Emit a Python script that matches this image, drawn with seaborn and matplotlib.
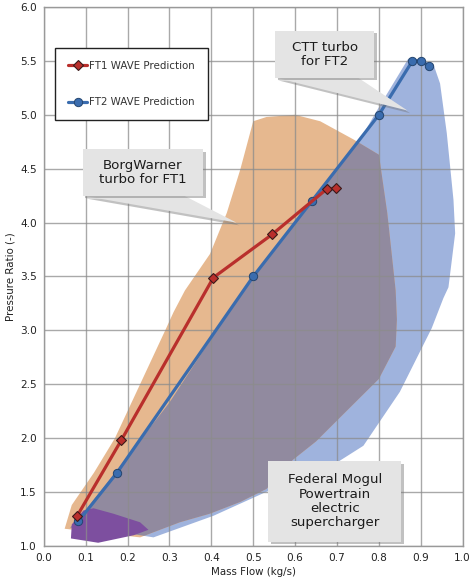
import matplotlib
matplotlib.use('Agg')
import matplotlib.pyplot as plt
import matplotlib.patheffects as pe
from matplotlib.patches import Polygon
import seaborn as sns
import pandas as pd

# predicted operating lines
ft1_flow = [0.08, 0.185, 0.405, 0.545, 0.675, 0.697]
ft1_pr = [1.28, 1.98, 3.49, 3.89, 4.31, 4.32]
ft2_flow = [0.083, 0.175, 0.5, 0.64, 0.8, 0.88, 0.9, 0.92]
ft2_pr = [1.23, 1.68, 3.5, 4.2, 5.0, 5.5, 5.5, 5.45]

# compressor map outlines
borg_flow = [0.05, 0.067, 0.12, 0.17, 0.23, 0.29, 0.31, 0.337, 0.397, 0.437, 0.469, 0.50, 0.532, 0.60, 0.66, 0.74, 0.80, 0.82, 0.84, 0.843, 0.84, 0.80, 0.73, 0.65, 0.595, 0.532, 0.47, 0.397, 0.325, 0.23]
borg_pr = [1.16, 1.38, 1.68, 2.0, 2.5, 3.0, 3.17, 3.37, 3.71, 4.09, 4.49, 4.94, 4.98, 5.0, 4.94, 4.77, 4.63, 4.09, 3.37, 3.1, 2.85, 2.55, 2.28, 1.97, 1.80, 1.53, 1.41, 1.30, 1.22, 1.08]
ctt_flow = [0.063, 0.10, 0.30, 0.48, 0.755, 0.80, 0.87, 0.90, 0.93, 0.946, 0.962, 0.978, 0.982, 0.966, 0.954, 0.926, 0.85, 0.763, 0.69, 0.53, 0.405, 0.262, 0.166]
ctt_pr = [1.17, 1.33, 2.33, 3.4, 4.77, 5.07, 5.52, 5.51, 5.47, 5.29, 4.83, 4.21, 3.9, 3.4, 3.3, 3.02, 2.43, 1.93, 1.75, 1.5, 1.28, 1.08, 1.14]
mogul_flow = [0.065, 0.067, 0.095, 0.119, 0.166, 0.23, 0.25, 0.215, 0.13]
mogul_pr = [1.07, 1.2, 1.33, 1.35, 1.30, 1.22, 1.15, 1.10, 1.03]

x_ticks = [0.0, 0.1, 0.2, 0.3, 0.4, 0.5, 0.6, 0.7, 0.8, 0.9, 1.0]
y_ticks = [1.0, 1.5, 2.0, 2.5, 3.0, 3.5, 4.0, 4.5, 5.0, 5.5, 6.0]

sns.set_style('whitegrid')
plt.rcParams['font.family'] = ['DejaVu Sans']

fig = plt.figure(figsize=(4.74, 5.84), dpi=100)
ax = fig.add_axes([43.7 / 474, 38 / 584, 419 / 474, 539 / 584])

# maps, overlap region is the orange one clipped to the blue one
ctt = Polygon(list(zip(ctt_flow, ctt_pr)), fc='#9fb3dd', ec='none', zorder=1)
ax.add_patch(ctt)
ax.add_patch(Polygon(list(zip(borg_flow, borg_pr)), fc='#e6b88f', ec='none', zorder=1))
overlap = Polygon(list(zip(borg_flow, borg_pr)), fc='#918a9f', ec='none', zorder=1)
ax.add_patch(overlap)
overlap.set_clip_path(ctt)
ax.add_patch(Polygon(list(zip(mogul_flow, mogul_pr)), fc='#7d4f9f', ec='none', zorder=1.1))

df1 = pd.DataFrame({'flow': ft1_flow, 'pr': ft1_pr})
df2 = pd.DataFrame({'flow': ft2_flow, 'pr': ft2_pr})
sns.lineplot(x='flow', y='pr', data=df2, sort=False, ax=ax, color='#3a6cae', lw=2.3, marker='o', ms=6,
             mec='#24456f', mew=0.7, label='FT2 WAVE Prediction', zorder=3)
sns.lineplot(x='flow', y='pr', data=df1, sort=False, ax=ax, color='#b92f2c', lw=2.3, marker='D', ms=5.2,
             mec='#3a1a1a', mew=0.8, label='FT1 WAVE Prediction', zorder=3)

ax.set_xlim(0, 1)
ax.set_ylim(1, 6)
ax.set_xticks(x_ticks)
ax.set_yticks(y_ticks)
ax.set_xticklabels(['%.1f' % v for v in x_ticks])
ax.set_yticklabels(['%.1f' % v for v in y_ticks])
ax.set_axisbelow('line')
ax.grid(True, color='#8c8c8c', lw=1.0, alpha=0.75)
for s in ['top', 'right', 'left', 'bottom']:
    ax.spines[s].set_color('#999999')
    ax.spines[s].set_linewidth(1.0)
ax.tick_params(axis='both', length=3, width=0.9, color='#999999', labelsize=7.6, labelcolor='#222222', pad=2)
ax.set_xlabel('Mass Flow (kg/s)', fontsize=7.4, color='#222222', labelpad=3)
ax.set_ylabel('Pressure Ratio (-)', fontsize=7.4, color='#222222', labelpad=3)

handles, labels = ax.get_legend_handles_labels()
leg = ax.legend(handles[::-1], labels[::-1], loc='upper left', bbox_to_anchor=(0.028, 0.9235), borderaxespad=0,
                frameon=True, fancybox=False, framealpha=1, edgecolor='#222222', fontsize=7.4,
                labelspacing=2.55, handlelength=1.8, handletextpad=0.25, borderpad=1.25, labelcolor='#333333')
leg.get_frame().set_linewidth(1.0)


# grey callout: box plus a pointer, in data units
def callout(box, tip, base, text, size):
    x0, y0, x1, y1 = box
    shadow = [pe.SimplePatchShadow(offset=(2, -2), shadow_rgbFace='#777777', alpha=0.45), pe.Normal()]
    ax.add_patch(Polygon([(x0, y0), tip, (base, y0)], fc='#e4e4e4', ec='none', zorder=4, path_effects=shadow))
    ax.add_patch(Polygon([(x0, y0), (x1, y0), (x1, y1), (x0, y1)], fc='#e4e4e4', ec='none', zorder=4, path_effects=shadow))
    ax.text((x0 + x1) / 2, (y0 + y1) / 2, text, ha='center', va='center', fontsize=size, color='#1c1c1c',
            linespacing=1.12, zorder=5)


callout((0.553, 5.345, 0.788, 5.78), (0.868, 5.04), 0.75, 'CTT turbo\nfor FT2', 9.6)
callout((0.093, 4.25, 0.38, 4.68), (0.46, 4.0), 0.335, 'BorgWarner\nturbo for FT1', 9.6)
callout((0.536, 1.04, 0.853, 1.79), (0.158, 1.185), 0.536, 'Federal Mogul\nPowertrain\nelectric\nsupercharger', 9.6)

fig.savefig('out.png', dpi=100)
